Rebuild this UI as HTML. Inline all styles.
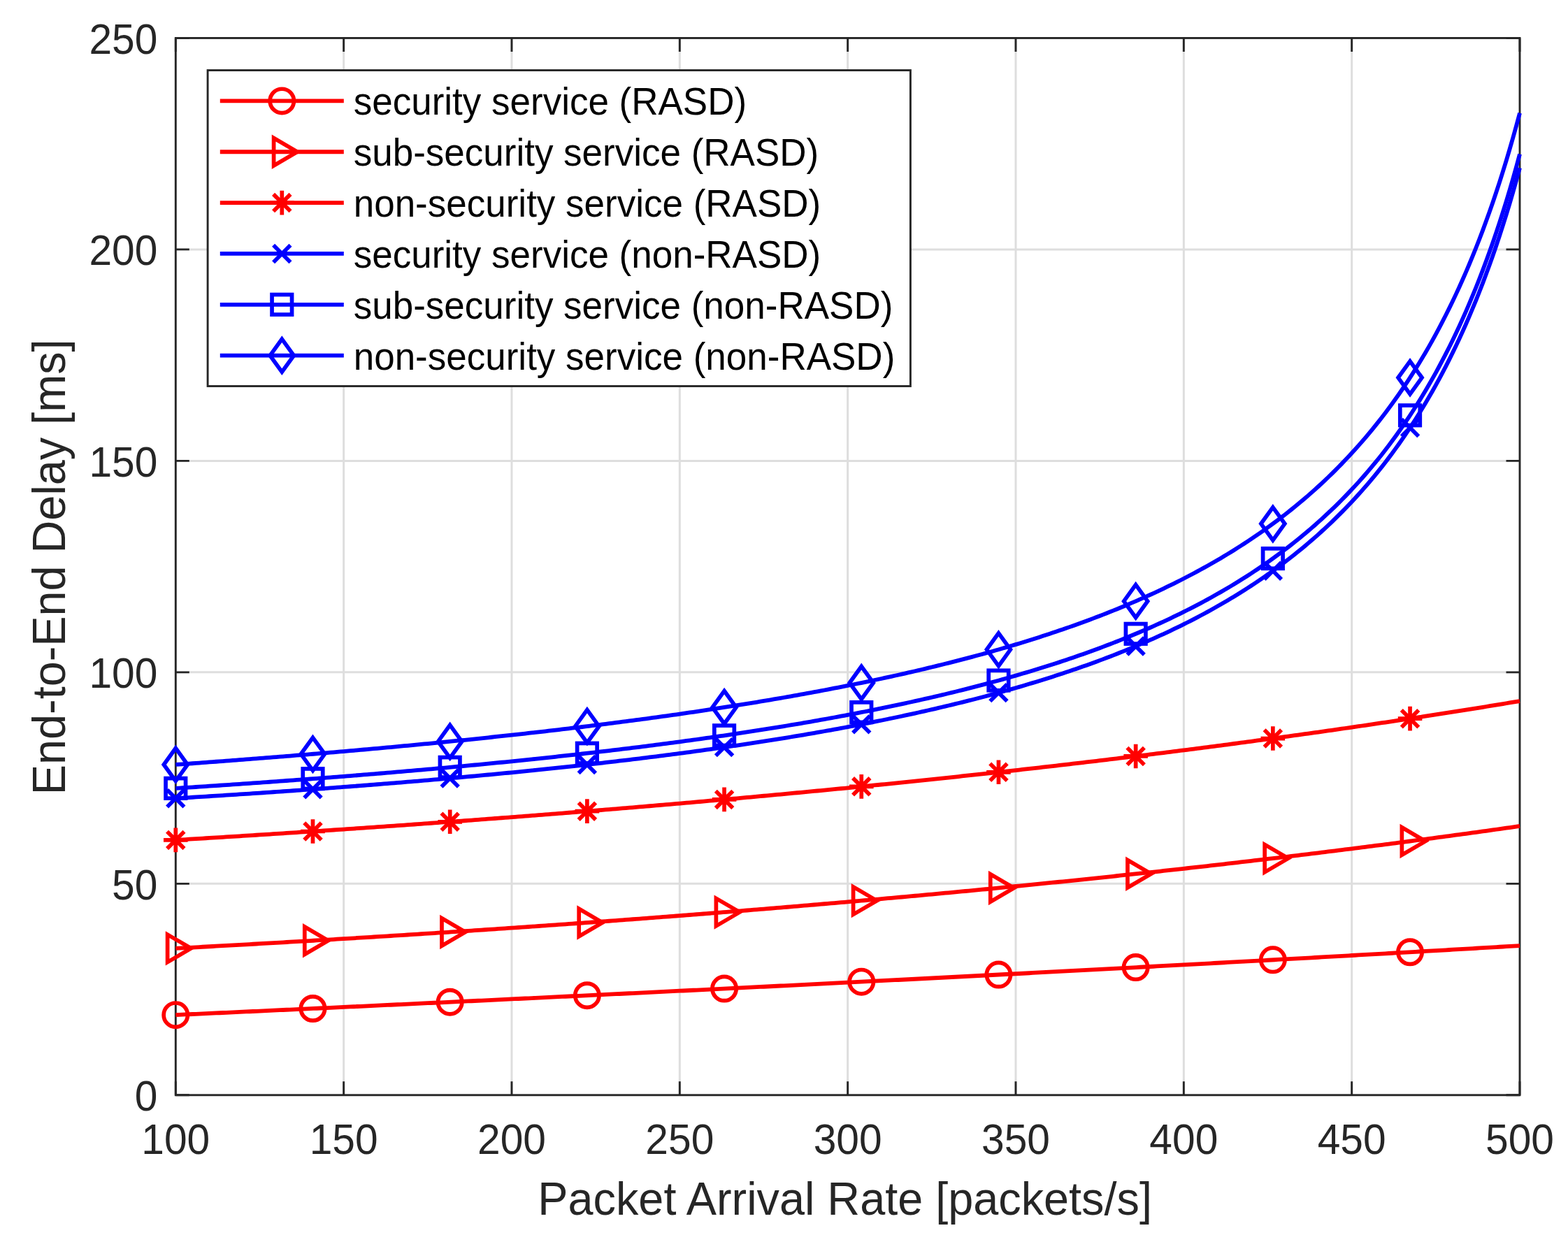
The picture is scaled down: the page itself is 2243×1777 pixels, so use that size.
<!DOCTYPE html>
<html><head><meta charset="utf-8"><title>End-to-End Delay vs Packet Arrival Rate</title><style>html,body{margin:0;padding:0;background:#fff;width:2243px;height:1777px;overflow:hidden}svg{display:block}</style></head><body>
<svg width="2243" height="1777" viewBox="0 0 2243 1777">
<rect width="2243" height="1777" fill="#ffffff"/>
<path d="M491.64 54.45V1566.8M731.98 54.45V1566.8M972.31 54.45V1566.8M1212.65 54.45V1566.8M1452.99 54.45V1566.8M1693.33 54.45V1566.8M1933.66 54.45V1566.8M251.3 1264.33H2174M251.3 961.86H2174M251.3 659.39H2174M251.3 356.92H2174" stroke="#dedede" stroke-width="3.0" fill="none"/>
<path d="M251.3 1566.8V1547.3M251.3 54.45V73.95M491.64 1566.8V1547.3M491.64 54.45V73.95M731.98 1566.8V1547.3M731.98 54.45V73.95M972.31 1566.8V1547.3M972.31 54.45V73.95M1212.65 1566.8V1547.3M1212.65 54.45V73.95M1452.99 1566.8V1547.3M1452.99 54.45V73.95M1693.33 1566.8V1547.3M1693.33 54.45V73.95M1933.66 1566.8V1547.3M1933.66 54.45V73.95M2174 1566.8V1547.3M2174 54.45V73.95M251.3 1566.8H270.8M2174 1566.8H2154.5M251.3 1264.33H270.8M2174 1264.33H2154.5M251.3 961.86H270.8M2174 961.86H2154.5M251.3 659.39H270.8M2174 659.39H2154.5M251.3 356.92H270.8M2174 356.92H2154.5M251.3 54.45H270.8M2174 54.45H2154.5" stroke="#262626" stroke-width="2.9" fill="none"/>
<rect x="251.3" y="54.45" width="1922.7" height="1512.35" stroke="#262626" stroke-width="2.9" fill="none"/>
<polyline points="251.3,1452.14 256.11,1451.91 260.91,1451.69 265.72,1451.47 270.53,1451.25 275.33,1451.02 280.14,1450.8 284.95,1450.58 289.75,1450.36 294.56,1450.13 299.37,1449.91 304.17,1449.69 308.98,1449.46 313.79,1449.24 318.59,1449.02 323.4,1448.79 328.21,1448.57 333.01,1448.35 337.82,1448.12 342.63,1447.9 347.44,1447.67 352.24,1447.45 357.05,1447.23 361.86,1447 366.66,1446.78 371.47,1446.55 376.28,1446.33 381.08,1446.1 385.89,1445.88 390.7,1445.66 395.5,1445.43 400.31,1445.21 405.12,1444.98 409.92,1444.76 414.73,1444.53 419.54,1444.3 424.34,1444.08 429.15,1443.85 433.96,1443.63 438.76,1443.4 443.57,1443.18 448.38,1442.95 453.18,1442.73 457.99,1442.5 462.8,1442.27 467.6,1442.05 472.41,1441.82 477.22,1441.59 482.02,1441.37 486.83,1441.14 491.64,1440.91 496.44,1440.69 501.25,1440.46 506.06,1440.23 510.86,1440.01 515.67,1439.78 520.48,1439.55 525.28,1439.32 530.09,1439.1 534.9,1438.87 539.7,1438.64 544.51,1438.41 549.32,1438.19 554.13,1437.96 558.93,1437.73 563.74,1437.5 568.55,1437.27 573.35,1437.05 578.16,1436.82 582.97,1436.59 587.77,1436.36 592.58,1436.13 597.39,1435.9 602.19,1435.67 607,1435.44 611.81,1435.22 616.61,1434.99 621.42,1434.76 626.23,1434.53 631.03,1434.3 635.84,1434.07 640.65,1433.84 645.45,1433.61 650.26,1433.38 655.07,1433.15 659.87,1432.92 664.68,1432.69 669.49,1432.46 674.29,1432.23 679.1,1432 683.91,1431.77 688.71,1431.53 693.52,1431.3 698.33,1431.07 703.13,1430.84 707.94,1430.61 712.75,1430.38 717.55,1430.15 722.36,1429.92 727.17,1429.68 731.98,1429.45 736.78,1429.22 741.59,1428.99 746.4,1428.76 751.2,1428.52 756.01,1428.29 760.82,1428.06 765.62,1427.83 770.43,1427.59 775.24,1427.36 780.04,1427.13 784.85,1426.9 789.66,1426.66 794.46,1426.43 799.27,1426.2 804.08,1425.96 808.88,1425.73 813.69,1425.49 818.5,1425.26 823.3,1425.03 828.11,1424.79 832.92,1424.56 837.72,1424.32 842.53,1424.09 847.34,1423.86 852.14,1423.62 856.95,1423.39 861.76,1423.15 866.56,1422.92 871.37,1422.68 876.18,1422.45 880.98,1422.21 885.79,1421.98 890.6,1421.74 895.4,1421.5 900.21,1421.27 905.02,1421.03 909.82,1420.8 914.63,1420.56 919.44,1420.32 924.25,1420.09 929.05,1419.85 933.86,1419.61 938.67,1419.38 943.47,1419.14 948.28,1418.9 953.09,1418.67 957.89,1418.43 962.7,1418.19 967.51,1417.95 972.31,1417.72 977.12,1417.48 981.93,1417.24 986.73,1417 991.54,1416.76 996.35,1416.53 1001.15,1416.29 1005.96,1416.05 1010.77,1415.81 1015.57,1415.57 1020.38,1415.33 1025.19,1415.09 1029.99,1414.85 1034.8,1414.61 1039.61,1414.37 1044.41,1414.13 1049.22,1413.9 1054.03,1413.66 1058.83,1413.42 1063.64,1413.18 1068.45,1412.93 1073.25,1412.69 1078.06,1412.45 1082.87,1412.21 1087.67,1411.97 1092.48,1411.73 1097.29,1411.49 1102.09,1411.25 1106.9,1411.01 1111.71,1410.77 1116.52,1410.52 1121.32,1410.28 1126.13,1410.04 1130.94,1409.8 1135.74,1409.56 1140.55,1409.31 1145.36,1409.07 1150.16,1408.83 1154.97,1408.59 1159.78,1408.34 1164.58,1408.1 1169.39,1407.86 1174.2,1407.61 1179,1407.37 1183.81,1407.13 1188.62,1406.88 1193.42,1406.64 1198.23,1406.39 1203.04,1406.15 1207.84,1405.91 1212.65,1405.66 1217.46,1405.42 1222.26,1405.17 1227.07,1404.93 1231.88,1404.68 1236.68,1404.44 1241.49,1404.19 1246.3,1403.95 1251.1,1403.7 1255.91,1403.45 1260.72,1403.21 1265.52,1402.96 1270.33,1402.72 1275.14,1402.47 1279.94,1402.22 1284.75,1401.98 1289.56,1401.73 1294.36,1401.48 1299.17,1401.24 1303.98,1400.99 1308.78,1400.74 1313.59,1400.49 1318.4,1400.24 1323.21,1400 1328.01,1399.75 1332.82,1399.5 1337.63,1399.25 1342.43,1399 1347.24,1398.75 1352.05,1398.51 1356.85,1398.26 1361.66,1398.01 1366.47,1397.76 1371.27,1397.51 1376.08,1397.26 1380.89,1397.01 1385.69,1396.76 1390.5,1396.51 1395.31,1396.26 1400.11,1396.01 1404.92,1395.76 1409.73,1395.51 1414.53,1395.25 1419.34,1395 1424.15,1394.75 1428.95,1394.5 1433.76,1394.25 1438.57,1394 1443.37,1393.74 1448.18,1393.49 1452.99,1393.24 1457.79,1392.99 1462.6,1392.73 1467.41,1392.48 1472.21,1392.23 1477.02,1391.97 1481.83,1391.72 1486.63,1391.47 1491.44,1391.21 1496.25,1390.96 1501.06,1390.71 1505.86,1390.45 1510.67,1390.2 1515.48,1389.94 1520.28,1389.69 1525.09,1389.43 1529.9,1389.18 1534.7,1388.92 1539.51,1388.67 1544.32,1388.41 1549.12,1388.15 1553.93,1387.9 1558.74,1387.64 1563.54,1387.38 1568.35,1387.13 1573.16,1386.87 1577.96,1386.61 1582.77,1386.36 1587.58,1386.1 1592.38,1385.84 1597.19,1385.58 1602,1385.33 1606.8,1385.07 1611.61,1384.81 1616.42,1384.55 1621.22,1384.29 1626.03,1384.03 1630.84,1383.77 1635.64,1383.51 1640.45,1383.25 1645.26,1382.99 1650.06,1382.73 1654.87,1382.47 1659.68,1382.21 1664.48,1381.95 1669.29,1381.69 1674.1,1381.43 1678.9,1381.17 1683.71,1380.91 1688.52,1380.65 1693.33,1380.39 1698.13,1380.12 1702.94,1379.86 1707.75,1379.6 1712.55,1379.34 1717.36,1379.07 1722.17,1378.81 1726.97,1378.55 1731.78,1378.28 1736.59,1378.02 1741.39,1377.76 1746.2,1377.49 1751.01,1377.23 1755.81,1376.96 1760.62,1376.7 1765.43,1376.43 1770.23,1376.17 1775.04,1375.9 1779.85,1375.64 1784.65,1375.37 1789.46,1375.11 1794.27,1374.84 1799.07,1374.57 1803.88,1374.31 1808.69,1374.04 1813.49,1373.77 1818.3,1373.51 1823.11,1373.24 1827.91,1372.97 1832.72,1372.7 1837.53,1372.43 1842.33,1372.17 1847.14,1371.9 1851.95,1371.63 1856.75,1371.36 1861.56,1371.09 1866.37,1370.82 1871.17,1370.55 1875.98,1370.28 1880.79,1370.01 1885.6,1369.74 1890.4,1369.47 1895.21,1369.2 1900.02,1368.93 1904.82,1368.65 1909.63,1368.38 1914.44,1368.11 1919.24,1367.84 1924.05,1367.57 1928.86,1367.29 1933.66,1367.02 1938.47,1366.75 1943.28,1366.47 1948.08,1366.2 1952.89,1365.93 1957.7,1365.65 1962.5,1365.38 1967.31,1365.1 1972.12,1364.83 1976.92,1364.55 1981.73,1364.28 1986.54,1364 1991.34,1363.73 1996.15,1363.45 2000.96,1363.17 2005.76,1362.9 2010.57,1362.62 2015.38,1362.34 2020.18,1362.07 2024.99,1361.79 2029.8,1361.51 2034.6,1361.23 2039.41,1360.95 2044.22,1360.68 2049.02,1360.4 2053.83,1360.12 2058.64,1359.84 2063.44,1359.56 2068.25,1359.28 2073.06,1359 2077.87,1358.72 2082.67,1358.44 2087.48,1358.15 2092.29,1357.87 2097.09,1357.59 2101.9,1357.31 2106.71,1357.03 2111.51,1356.75 2116.32,1356.46 2121.13,1356.18 2125.93,1355.9 2130.74,1355.61 2135.55,1355.33 2140.35,1355.04 2145.16,1354.76 2149.97,1354.48 2154.77,1354.19 2159.58,1353.9 2164.39,1353.62 2169.19,1353.33 2174,1353.05" stroke="#ff0000" stroke-width="5.8" fill="none" stroke-linejoin="round" stroke-linecap="butt"/>
<circle cx="251.3" cy="1452.14" r="17.15" stroke="#ff0000" stroke-width="5.7" fill="none"/>
<circle cx="447.49" cy="1442.99" r="17.15" stroke="#ff0000" stroke-width="5.7" fill="none"/>
<circle cx="643.69" cy="1433.69" r="17.15" stroke="#ff0000" stroke-width="5.7" fill="none"/>
<circle cx="839.88" cy="1424.22" r="17.15" stroke="#ff0000" stroke-width="5.7" fill="none"/>
<circle cx="1036.08" cy="1414.55" r="17.15" stroke="#ff0000" stroke-width="5.7" fill="none"/>
<circle cx="1232.27" cy="1404.66" r="17.15" stroke="#ff0000" stroke-width="5.7" fill="none"/>
<circle cx="1428.46" cy="1394.53" r="17.15" stroke="#ff0000" stroke-width="5.7" fill="none"/>
<circle cx="1624.66" cy="1384.11" r="17.15" stroke="#ff0000" stroke-width="5.7" fill="none"/>
<circle cx="1820.85" cy="1373.36" r="17.15" stroke="#ff0000" stroke-width="5.7" fill="none"/>
<circle cx="2017.04" cy="1362.25" r="17.15" stroke="#ff0000" stroke-width="5.7" fill="none"/>
<polyline points="251.3,1356.85 256.11,1356.59 260.91,1356.33 265.72,1356.08 270.53,1355.82 275.33,1355.56 280.14,1355.3 284.95,1355.03 289.75,1354.77 294.56,1354.51 299.37,1354.25 304.17,1353.98 308.98,1353.72 313.79,1353.45 318.59,1353.19 323.4,1352.92 328.21,1352.65 333.01,1352.38 337.82,1352.11 342.63,1351.85 347.44,1351.58 352.24,1351.3 357.05,1351.03 361.86,1350.76 366.66,1350.49 371.47,1350.22 376.28,1349.94 381.08,1349.67 385.89,1349.39 390.7,1349.11 395.5,1348.84 400.31,1348.56 405.12,1348.28 409.92,1348 414.73,1347.72 419.54,1347.44 424.34,1347.16 429.15,1346.88 433.96,1346.6 438.76,1346.31 443.57,1346.03 448.38,1345.75 453.18,1345.46 457.99,1345.17 462.8,1344.89 467.6,1344.6 472.41,1344.31 477.22,1344.02 482.02,1343.73 486.83,1343.44 491.64,1343.15 496.44,1342.86 501.25,1342.57 506.06,1342.28 510.86,1341.98 515.67,1341.69 520.48,1341.39 525.28,1341.1 530.09,1340.8 534.9,1340.5 539.7,1340.2 544.51,1339.9 549.32,1339.6 554.13,1339.3 558.93,1339 563.74,1338.7 568.55,1338.4 573.35,1338.09 578.16,1337.79 582.97,1337.49 587.77,1337.18 592.58,1336.87 597.39,1336.57 602.19,1336.26 607,1335.95 611.81,1335.64 616.61,1335.33 621.42,1335.02 626.23,1334.71 631.03,1334.39 635.84,1334.08 640.65,1333.77 645.45,1333.45 650.26,1333.14 655.07,1332.82 659.87,1332.5 664.68,1332.19 669.49,1331.87 674.29,1331.55 679.1,1331.23 683.91,1330.91 688.71,1330.58 693.52,1330.26 698.33,1329.94 703.13,1329.61 707.94,1329.29 712.75,1328.96 717.55,1328.64 722.36,1328.31 727.17,1327.98 731.98,1327.65 736.78,1327.32 741.59,1326.99 746.4,1326.66 751.2,1326.33 756.01,1325.99 760.82,1325.66 765.62,1325.32 770.43,1324.99 775.24,1324.65 780.04,1324.32 784.85,1323.98 789.66,1323.64 794.46,1323.3 799.27,1322.96 804.08,1322.62 808.88,1322.28 813.69,1321.93 818.5,1321.59 823.3,1321.24 828.11,1320.9 832.92,1320.55 837.72,1320.2 842.53,1319.86 847.34,1319.51 852.14,1319.16 856.95,1318.81 861.76,1318.46 866.56,1318.1 871.37,1317.75 876.18,1317.4 880.98,1317.04 885.79,1316.69 890.6,1316.33 895.4,1315.97 900.21,1315.61 905.02,1315.25 909.82,1314.89 914.63,1314.53 919.44,1314.17 924.25,1313.81 929.05,1313.44 933.86,1313.08 938.67,1312.71 943.47,1312.35 948.28,1311.98 953.09,1311.61 957.89,1311.24 962.7,1310.87 967.51,1310.5 972.31,1310.13 977.12,1309.76 981.93,1309.39 986.73,1309.01 991.54,1308.64 996.35,1308.26 1001.15,1307.88 1005.96,1307.5 1010.77,1307.13 1015.57,1306.75 1020.38,1306.36 1025.19,1305.98 1029.99,1305.6 1034.8,1305.22 1039.61,1304.83 1044.41,1304.45 1049.22,1304.06 1054.03,1303.67 1058.83,1303.28 1063.64,1302.9 1068.45,1302.51 1073.25,1302.11 1078.06,1301.72 1082.87,1301.33 1087.67,1300.94 1092.48,1300.54 1097.29,1300.14 1102.09,1299.75 1106.9,1299.35 1111.71,1298.95 1116.52,1298.55 1121.32,1298.15 1126.13,1297.75 1130.94,1297.35 1135.74,1296.94 1140.55,1296.54 1145.36,1296.13 1150.16,1295.73 1154.97,1295.32 1159.78,1294.91 1164.58,1294.5 1169.39,1294.09 1174.2,1293.68 1179,1293.26 1183.81,1292.85 1188.62,1292.44 1193.42,1292.02 1198.23,1291.6 1203.04,1291.19 1207.84,1290.77 1212.65,1290.35 1217.46,1289.93 1222.26,1289.51 1227.07,1289.08 1231.88,1288.66 1236.68,1288.24 1241.49,1287.81 1246.3,1287.38 1251.1,1286.96 1255.91,1286.53 1260.72,1286.1 1265.52,1285.67 1270.33,1285.23 1275.14,1284.8 1279.94,1284.37 1284.75,1283.93 1289.56,1283.49 1294.36,1283.06 1299.17,1282.62 1303.98,1282.18 1308.78,1281.74 1313.59,1281.3 1318.4,1280.86 1323.21,1280.41 1328.01,1279.97 1332.82,1279.52 1337.63,1279.07 1342.43,1278.63 1347.24,1278.18 1352.05,1277.73 1356.85,1277.28 1361.66,1276.82 1366.47,1276.37 1371.27,1275.91 1376.08,1275.46 1380.89,1275 1385.69,1274.54 1390.5,1274.09 1395.31,1273.62 1400.11,1273.16 1404.92,1272.7 1409.73,1272.24 1414.53,1271.77 1419.34,1271.31 1424.15,1270.84 1428.95,1270.37 1433.76,1269.9 1438.57,1269.43 1443.37,1268.96 1448.18,1268.49 1452.99,1268.01 1457.79,1267.54 1462.6,1267.06 1467.41,1266.59 1472.21,1266.11 1477.02,1265.63 1481.83,1265.15 1486.63,1264.67 1491.44,1264.18 1496.25,1263.7 1501.06,1263.21 1505.86,1262.73 1510.67,1262.24 1515.48,1261.75 1520.28,1261.26 1525.09,1260.77 1529.9,1260.28 1534.7,1259.78 1539.51,1259.29 1544.32,1258.79 1549.12,1258.29 1553.93,1257.79 1558.74,1257.29 1563.54,1256.79 1568.35,1256.29 1573.16,1255.79 1577.96,1255.28 1582.77,1254.78 1587.58,1254.27 1592.38,1253.76 1597.19,1253.25 1602,1252.74 1606.8,1252.23 1611.61,1251.71 1616.42,1251.2 1621.22,1250.68 1626.03,1250.17 1630.84,1249.65 1635.64,1249.13 1640.45,1248.61 1645.26,1248.09 1650.06,1247.56 1654.87,1247.04 1659.68,1246.51 1664.48,1245.98 1669.29,1245.45 1674.1,1244.92 1678.9,1244.39 1683.71,1243.86 1688.52,1243.33 1693.33,1242.79 1698.13,1242.25 1702.94,1241.72 1707.75,1241.18 1712.55,1240.64 1717.36,1240.09 1722.17,1239.55 1726.97,1239.01 1731.78,1238.46 1736.59,1237.91 1741.39,1237.37 1746.2,1236.82 1751.01,1236.26 1755.81,1235.71 1760.62,1235.16 1765.43,1234.6 1770.23,1234.05 1775.04,1233.49 1779.85,1232.93 1784.65,1232.37 1789.46,1231.8 1794.27,1231.24 1799.07,1230.68 1803.88,1230.11 1808.69,1229.54 1813.49,1228.97 1818.3,1228.4 1823.11,1227.83 1827.91,1227.26 1832.72,1226.68 1837.53,1226.1 1842.33,1225.53 1847.14,1224.95 1851.95,1224.37 1856.75,1223.79 1861.56,1223.2 1866.37,1222.62 1871.17,1222.03 1875.98,1221.44 1880.79,1220.85 1885.6,1220.26 1890.4,1219.67 1895.21,1219.08 1900.02,1218.48 1904.82,1217.89 1909.63,1217.29 1914.44,1216.69 1919.24,1216.09 1924.05,1215.48 1928.86,1214.88 1933.66,1214.27 1938.47,1213.67 1943.28,1213.06 1948.08,1212.45 1952.89,1211.84 1957.7,1211.22 1962.5,1210.61 1967.31,1209.99 1972.12,1209.38 1976.92,1208.76 1981.73,1208.14 1986.54,1207.51 1991.34,1206.89 1996.15,1206.26 2000.96,1205.64 2005.76,1205.01 2010.57,1204.38 2015.38,1203.75 2020.18,1203.11 2024.99,1202.48 2029.8,1201.84 2034.6,1201.2 2039.41,1200.56 2044.22,1199.92 2049.02,1199.28 2053.83,1198.64 2058.64,1197.99 2063.44,1197.34 2068.25,1196.69 2073.06,1196.04 2077.87,1195.39 2082.67,1194.73 2087.48,1194.08 2092.29,1193.42 2097.09,1192.76 2101.9,1192.1 2106.71,1191.44 2111.51,1190.77 2116.32,1190.11 2121.13,1189.44 2125.93,1188.77 2130.74,1188.1 2135.55,1187.43 2140.35,1186.75 2145.16,1186.08 2149.97,1185.4 2154.77,1184.72 2159.58,1184.04 2164.39,1183.36 2169.19,1182.67 2174,1181.99" stroke="#ff0000" stroke-width="5.8" fill="none" stroke-linejoin="round" stroke-linecap="butt"/>
<polygon points="239.6,1337.1 273.3,1356.85 239.6,1376.6" stroke="#ff0000" stroke-width="5.7" fill="none" stroke-linejoin="miter"/>
<polygon points="435.79,1326.05 469.49,1345.8 435.79,1365.55" stroke="#ff0000" stroke-width="5.7" fill="none" stroke-linejoin="miter"/>
<polygon points="631.99,1313.82 665.69,1333.57 631.99,1353.32" stroke="#ff0000" stroke-width="5.7" fill="none" stroke-linejoin="miter"/>
<polygon points="828.18,1300.3 861.88,1320.05 828.18,1339.8" stroke="#ff0000" stroke-width="5.7" fill="none" stroke-linejoin="miter"/>
<polygon points="1024.38,1285.36 1058.08,1305.11 1024.38,1324.86" stroke="#ff0000" stroke-width="5.7" fill="none" stroke-linejoin="miter"/>
<polygon points="1220.57,1268.88 1254.27,1288.63 1220.57,1308.38" stroke="#ff0000" stroke-width="5.7" fill="none" stroke-linejoin="miter"/>
<polygon points="1416.76,1250.67 1450.46,1270.42 1416.76,1290.17" stroke="#ff0000" stroke-width="5.7" fill="none" stroke-linejoin="miter"/>
<polygon points="1612.96,1230.56 1646.66,1250.31 1612.96,1270.06" stroke="#ff0000" stroke-width="5.7" fill="none" stroke-linejoin="miter"/>
<polygon points="1809.15,1208.35 1842.85,1228.1 1809.15,1247.85" stroke="#ff0000" stroke-width="5.7" fill="none" stroke-linejoin="miter"/>
<polygon points="2005.34,1183.78 2039.04,1203.53 2005.34,1223.28" stroke="#ff0000" stroke-width="5.7" fill="none" stroke-linejoin="miter"/>
<polyline points="251.3,1201.89 256.11,1201.6 260.91,1201.31 265.72,1201.02 270.53,1200.73 275.33,1200.44 280.14,1200.15 284.95,1199.85 289.75,1199.56 294.56,1199.26 299.37,1198.97 304.17,1198.67 308.98,1198.37 313.79,1198.08 318.59,1197.78 323.4,1197.48 328.21,1197.18 333.01,1196.88 337.82,1196.58 342.63,1196.27 347.44,1195.97 352.24,1195.67 357.05,1195.36 361.86,1195.06 366.66,1194.75 371.47,1194.44 376.28,1194.14 381.08,1193.83 385.89,1193.52 390.7,1193.21 395.5,1192.9 400.31,1192.59 405.12,1192.28 409.92,1191.96 414.73,1191.65 419.54,1191.33 424.34,1191.02 429.15,1190.7 433.96,1190.39 438.76,1190.07 443.57,1189.75 448.38,1189.43 453.18,1189.11 457.99,1188.79 462.8,1188.47 467.6,1188.15 472.41,1187.83 477.22,1187.5 482.02,1187.18 486.83,1186.85 491.64,1186.53 496.44,1186.2 501.25,1185.87 506.06,1185.54 510.86,1185.21 515.67,1184.88 520.48,1184.55 525.28,1184.22 530.09,1183.89 534.9,1183.55 539.7,1183.22 544.51,1182.89 549.32,1182.55 554.13,1182.21 558.93,1181.88 563.74,1181.54 568.55,1181.2 573.35,1180.86 578.16,1180.52 582.97,1180.18 587.77,1179.83 592.58,1179.49 597.39,1179.15 602.19,1178.8 607,1178.46 611.81,1178.11 616.61,1177.76 621.42,1177.41 626.23,1177.06 631.03,1176.71 635.84,1176.36 640.65,1176.01 645.45,1175.66 650.26,1175.31 655.07,1174.95 659.87,1174.6 664.68,1174.24 669.49,1173.88 674.29,1173.53 679.1,1173.17 683.91,1172.81 688.71,1172.45 693.52,1172.08 698.33,1171.72 703.13,1171.36 707.94,1171 712.75,1170.63 717.55,1170.26 722.36,1169.9 727.17,1169.53 731.98,1169.16 736.78,1168.79 741.59,1168.42 746.4,1168.05 751.2,1167.68 756.01,1167.31 760.82,1166.93 765.62,1166.56 770.43,1166.18 775.24,1165.8 780.04,1165.43 784.85,1165.05 789.66,1164.67 794.46,1164.29 799.27,1163.91 804.08,1163.52 808.88,1163.14 813.69,1162.76 818.5,1162.37 823.3,1161.99 828.11,1161.6 832.92,1161.21 837.72,1160.82 842.53,1160.43 847.34,1160.04 852.14,1159.65 856.95,1159.26 861.76,1158.86 866.56,1158.47 871.37,1158.07 876.18,1157.67 880.98,1157.28 885.79,1156.88 890.6,1156.48 895.4,1156.08 900.21,1155.68 905.02,1155.27 909.82,1154.87 914.63,1154.46 919.44,1154.06 924.25,1153.65 929.05,1153.24 933.86,1152.83 938.67,1152.43 943.47,1152.01 948.28,1151.6 953.09,1151.19 957.89,1150.78 962.7,1150.36 967.51,1149.95 972.31,1149.53 977.12,1149.11 981.93,1148.69 986.73,1148.27 991.54,1147.85 996.35,1147.43 1001.15,1147 1005.96,1146.58 1010.77,1146.15 1015.57,1145.73 1020.38,1145.3 1025.19,1144.87 1029.99,1144.44 1034.8,1144.01 1039.61,1143.58 1044.41,1143.15 1049.22,1142.71 1054.03,1142.28 1058.83,1141.84 1063.64,1141.41 1068.45,1140.97 1073.25,1140.53 1078.06,1140.09 1082.87,1139.65 1087.67,1139.2 1092.48,1138.76 1097.29,1138.31 1102.09,1137.87 1106.9,1137.42 1111.71,1136.97 1116.52,1136.52 1121.32,1136.07 1126.13,1135.62 1130.94,1135.17 1135.74,1134.72 1140.55,1134.26 1145.36,1133.8 1150.16,1133.35 1154.97,1132.89 1159.78,1132.43 1164.58,1131.97 1169.39,1131.51 1174.2,1131.04 1179,1130.58 1183.81,1130.11 1188.62,1129.65 1193.42,1129.18 1198.23,1128.71 1203.04,1128.24 1207.84,1127.77 1212.65,1127.3 1217.46,1126.82 1222.26,1126.35 1227.07,1125.87 1231.88,1125.39 1236.68,1124.91 1241.49,1124.43 1246.3,1123.95 1251.1,1123.47 1255.91,1122.99 1260.72,1122.5 1265.52,1122.02 1270.33,1121.53 1275.14,1121.04 1279.94,1120.55 1284.75,1120.06 1289.56,1119.57 1294.36,1119.08 1299.17,1118.58 1303.98,1118.09 1308.78,1117.59 1313.59,1117.09 1318.4,1116.59 1323.21,1116.09 1328.01,1115.59 1332.82,1115.08 1337.63,1114.58 1342.43,1114.07 1347.24,1113.57 1352.05,1113.06 1356.85,1112.55 1361.66,1112.04 1366.47,1111.52 1371.27,1111.01 1376.08,1110.49 1380.89,1109.98 1385.69,1109.46 1390.5,1108.94 1395.31,1108.42 1400.11,1107.9 1404.92,1107.37 1409.73,1106.85 1414.53,1106.32 1419.34,1105.8 1424.15,1105.27 1428.95,1104.74 1433.76,1104.21 1438.57,1103.67 1443.37,1103.14 1448.18,1102.61 1452.99,1102.07 1457.79,1101.53 1462.6,1100.99 1467.41,1100.45 1472.21,1099.91 1477.02,1099.36 1481.83,1098.82 1486.63,1098.27 1491.44,1097.72 1496.25,1097.17 1501.06,1096.62 1505.86,1096.07 1510.67,1095.52 1515.48,1094.96 1520.28,1094.41 1525.09,1093.85 1529.9,1093.29 1534.7,1092.73 1539.51,1092.16 1544.32,1091.6 1549.12,1091.04 1553.93,1090.47 1558.74,1089.9 1563.54,1089.33 1568.35,1088.76 1573.16,1088.19 1577.96,1087.61 1582.77,1087.04 1587.58,1086.46 1592.38,1085.88 1597.19,1085.3 1602,1084.72 1606.8,1084.13 1611.61,1083.55 1616.42,1082.96 1621.22,1082.38 1626.03,1081.79 1630.84,1081.2 1635.64,1080.6 1640.45,1080.01 1645.26,1079.41 1650.06,1078.82 1654.87,1078.22 1659.68,1077.62 1664.48,1077.01 1669.29,1076.41 1674.1,1075.81 1678.9,1075.2 1683.71,1074.59 1688.52,1073.98 1693.33,1073.37 1698.13,1072.76 1702.94,1072.14 1707.75,1071.52 1712.55,1070.91 1717.36,1070.29 1722.17,1069.66 1726.97,1069.04 1731.78,1068.42 1736.59,1067.79 1741.39,1067.16 1746.2,1066.53 1751.01,1065.9 1755.81,1065.27 1760.62,1064.63 1765.43,1064 1770.23,1063.36 1775.04,1062.72 1779.85,1062.08 1784.65,1061.43 1789.46,1060.79 1794.27,1060.14 1799.07,1059.49 1803.88,1058.84 1808.69,1058.19 1813.49,1057.54 1818.3,1056.88 1823.11,1056.22 1827.91,1055.57 1832.72,1054.9 1837.53,1054.24 1842.33,1053.58 1847.14,1052.91 1851.95,1052.24 1856.75,1051.57 1861.56,1050.9 1866.37,1050.23 1871.17,1049.55 1875.98,1048.88 1880.79,1048.2 1885.6,1047.52 1890.4,1046.83 1895.21,1046.15 1900.02,1045.46 1904.82,1044.78 1909.63,1044.09 1914.44,1043.39 1919.24,1042.7 1924.05,1042 1928.86,1041.31 1933.66,1040.61 1938.47,1039.91 1943.28,1039.2 1948.08,1038.5 1952.89,1037.79 1957.7,1037.08 1962.5,1036.37 1967.31,1035.66 1972.12,1034.94 1976.92,1034.23 1981.73,1033.51 1986.54,1032.79 1991.34,1032.06 1996.15,1031.34 2000.96,1030.61 2005.76,1029.88 2010.57,1029.15 2015.38,1028.42 2020.18,1027.68 2024.99,1026.95 2029.8,1026.21 2034.6,1025.47 2039.41,1024.72 2044.22,1023.98 2049.02,1023.23 2053.83,1022.48 2058.64,1021.73 2063.44,1020.98 2068.25,1020.22 2073.06,1019.47 2077.87,1018.71 2082.67,1017.94 2087.48,1017.18 2092.29,1016.41 2097.09,1015.65 2101.9,1014.87 2106.71,1014.1 2111.51,1013.33 2116.32,1012.55 2121.13,1011.77 2125.93,1010.99 2130.74,1010.21 2135.55,1009.42 2140.35,1008.63 2145.16,1007.84 2149.97,1007.05 2154.77,1006.26 2159.58,1005.46 2164.39,1004.66 2169.19,1003.86 2174,1003.06" stroke="#ff0000" stroke-width="5.8" fill="none" stroke-linejoin="round" stroke-linecap="butt"/>
<path d="M234 1201.89H268.6M251.3 1184.59V1219.19M239.07 1189.66L263.53 1214.13M239.07 1214.13L263.53 1189.66" stroke="#ff0000" stroke-width="5.7" fill="none" stroke-linecap="butt"/>
<path d="M430.19 1189.49H464.79M447.49 1172.19V1206.79M435.26 1177.26L459.73 1201.72M435.26 1201.72L459.73 1177.26" stroke="#ff0000" stroke-width="5.7" fill="none" stroke-linecap="butt"/>
<path d="M626.39 1175.79H660.99M643.69 1158.49V1193.09M631.45 1163.56L655.92 1188.02M631.45 1188.02L655.92 1163.56" stroke="#ff0000" stroke-width="5.7" fill="none" stroke-linecap="butt"/>
<path d="M822.58 1160.65H857.18M839.88 1143.35V1177.95M827.65 1148.41L852.11 1172.88M827.65 1172.88L852.11 1148.41" stroke="#ff0000" stroke-width="5.7" fill="none" stroke-linecap="butt"/>
<path d="M1018.78 1143.9H1053.38M1036.08 1126.6V1161.2M1023.84 1131.66L1048.31 1156.13M1023.84 1156.13L1048.31 1131.66" stroke="#ff0000" stroke-width="5.7" fill="none" stroke-linecap="butt"/>
<path d="M1214.97 1125.35H1249.57M1232.27 1108.05V1142.65M1220.04 1113.12L1244.5 1137.59M1220.04 1137.59L1244.5 1113.12" stroke="#ff0000" stroke-width="5.7" fill="none" stroke-linecap="butt"/>
<path d="M1411.16 1104.79H1445.76M1428.46 1087.49V1122.09M1416.23 1092.56L1440.7 1117.03M1416.23 1117.03L1440.7 1092.56" stroke="#ff0000" stroke-width="5.7" fill="none" stroke-linecap="butt"/>
<path d="M1607.36 1081.95H1641.96M1624.66 1064.65V1099.25M1612.42 1069.72L1636.89 1094.19M1612.42 1094.19L1636.89 1069.72" stroke="#ff0000" stroke-width="5.7" fill="none" stroke-linecap="butt"/>
<path d="M1803.55 1056.53H1838.15M1820.85 1039.23V1073.83M1808.62 1044.3L1833.08 1068.77M1808.62 1068.77L1833.08 1044.3" stroke="#ff0000" stroke-width="5.7" fill="none" stroke-linecap="butt"/>
<path d="M1999.74 1028.16H2034.34M2017.04 1010.86V1045.46M2004.81 1015.93L2029.28 1040.4M2004.81 1040.4L2029.28 1015.93" stroke="#ff0000" stroke-width="5.7" fill="none" stroke-linecap="butt"/>
<polyline points="251.3,1142.23 256.11,1141.94 260.91,1141.65 265.72,1141.35 270.53,1141.06 275.33,1140.76 280.14,1140.46 284.95,1140.17 289.75,1139.87 294.56,1139.57 299.37,1139.26 304.17,1138.96 308.98,1138.65 313.79,1138.35 318.59,1138.04 323.4,1137.73 328.21,1137.42 333.01,1137.11 337.82,1136.8 342.63,1136.48 347.44,1136.16 352.24,1135.85 357.05,1135.53 361.86,1135.21 366.66,1134.89 371.47,1134.56 376.28,1134.24 381.08,1133.91 385.89,1133.58 390.7,1133.26 395.5,1132.92 400.31,1132.59 405.12,1132.26 409.92,1131.92 414.73,1131.59 419.54,1131.25 424.34,1130.91 429.15,1130.57 433.96,1130.22 438.76,1129.88 443.57,1129.53 448.38,1129.18 453.18,1128.84 457.99,1128.48 462.8,1128.13 467.6,1127.78 472.41,1127.42 477.22,1127.06 482.02,1126.7 486.83,1126.34 491.64,1125.98 496.44,1125.61 501.25,1125.25 506.06,1124.88 510.86,1124.51 515.67,1124.13 520.48,1123.76 525.28,1123.38 530.09,1123.01 534.9,1122.63 539.7,1122.25 544.51,1121.86 549.32,1121.48 554.13,1121.09 558.93,1120.7 563.74,1120.31 568.55,1119.92 573.35,1119.52 578.16,1119.13 582.97,1118.73 587.77,1118.33 592.58,1117.92 597.39,1117.52 602.19,1117.11 607,1116.7 611.81,1116.29 616.61,1115.88 621.42,1115.46 626.23,1115.04 631.03,1114.62 635.84,1114.2 640.65,1113.78 645.45,1113.35 650.26,1112.92 655.07,1112.49 659.87,1112.06 664.68,1111.62 669.49,1111.18 674.29,1110.74 679.1,1110.3 683.91,1109.86 688.71,1109.41 693.52,1108.96 698.33,1108.51 703.13,1108.05 707.94,1107.59 712.75,1107.13 717.55,1106.67 722.36,1106.21 727.17,1105.74 731.98,1105.27 736.78,1104.8 741.59,1104.32 746.4,1103.84 751.2,1103.36 756.01,1102.88 760.82,1102.4 765.62,1101.91 770.43,1101.42 775.24,1100.92 780.04,1100.42 784.85,1099.92 789.66,1099.42 794.46,1098.92 799.27,1098.41 804.08,1097.9 808.88,1097.38 813.69,1096.87 818.5,1096.34 823.3,1095.82 828.11,1095.3 832.92,1094.77 837.72,1094.23 842.53,1093.7 847.34,1093.16 852.14,1092.62 856.95,1092.07 861.76,1091.52 866.56,1090.97 871.37,1090.42 876.18,1089.86 880.98,1089.3 885.79,1088.73 890.6,1088.16 895.4,1087.59 900.21,1087.01 905.02,1086.43 909.82,1085.85 914.63,1085.26 919.44,1084.67 924.25,1084.08 929.05,1083.48 933.86,1082.88 938.67,1082.28 943.47,1081.67 948.28,1081.06 953.09,1080.44 957.89,1079.82 962.7,1079.19 967.51,1078.57 972.31,1077.93 977.12,1077.3 981.93,1076.66 986.73,1076.01 991.54,1075.36 996.35,1074.71 1001.15,1074.05 1005.96,1073.39 1010.77,1072.72 1015.57,1072.05 1020.38,1071.38 1025.19,1070.7 1029.99,1070.01 1034.8,1069.32 1039.61,1068.63 1044.41,1067.93 1049.22,1067.23 1054.03,1066.52 1058.83,1065.81 1063.64,1065.09 1068.45,1064.37 1073.25,1063.64 1078.06,1062.91 1082.87,1062.17 1087.67,1061.43 1092.48,1060.68 1097.29,1059.93 1102.09,1059.17 1106.9,1058.4 1111.71,1057.64 1116.52,1056.86 1121.32,1056.08 1126.13,1055.29 1130.94,1054.5 1135.74,1053.7 1140.55,1052.9 1145.36,1052.09 1150.16,1051.28 1154.97,1050.46 1159.78,1049.63 1164.58,1048.8 1169.39,1047.96 1174.2,1047.11 1179,1046.26 1183.81,1045.4 1188.62,1044.54 1193.42,1043.66 1198.23,1042.79 1203.04,1041.9 1207.84,1041.01 1212.65,1040.11 1217.46,1039.21 1222.26,1038.29 1227.07,1037.37 1231.88,1036.45 1236.68,1035.51 1241.49,1034.57 1246.3,1033.62 1251.1,1032.67 1255.91,1031.7 1260.72,1030.73 1265.52,1029.75 1270.33,1028.76 1275.14,1027.77 1279.94,1026.76 1284.75,1025.75 1289.56,1024.73 1294.36,1023.7 1299.17,1022.67 1303.98,1021.62 1308.78,1020.57 1313.59,1019.5 1318.4,1018.43 1323.21,1017.35 1328.01,1016.26 1332.82,1015.16 1337.63,1014.05 1342.43,1012.93 1347.24,1011.8 1352.05,1010.66 1356.85,1009.51 1361.66,1008.36 1366.47,1007.19 1371.27,1006.01 1376.08,1004.82 1380.89,1003.62 1385.69,1002.41 1390.5,1001.19 1395.31,999.95 1400.11,998.71 1404.92,997.45 1409.73,996.19 1414.53,994.91 1419.34,993.62 1424.15,992.31 1428.95,991 1433.76,989.67 1438.57,988.33 1443.37,986.98 1448.18,985.62 1452.99,984.24 1457.79,982.85 1462.6,981.44 1467.41,980.02 1472.21,978.59 1477.02,977.14 1481.83,975.68 1486.63,974.21 1491.44,972.72 1496.25,971.21 1501.06,969.69 1505.86,968.16 1510.67,966.61 1515.48,965.04 1520.28,963.46 1525.09,961.86 1529.9,960.24 1534.7,958.61 1539.51,956.96 1544.32,955.29 1549.12,953.6 1553.93,951.9 1558.74,950.18 1563.54,948.44 1568.35,946.68 1573.16,944.9 1577.96,943.11 1582.77,941.29 1587.58,939.45 1592.38,937.59 1597.19,935.71 1602,933.81 1606.8,931.89 1611.61,929.95 1616.42,927.98 1621.22,926 1626.03,923.99 1630.84,921.95 1635.64,919.89 1640.45,917.81 1645.26,915.7 1650.06,913.57 1654.87,911.41 1659.68,909.22 1664.48,907.01 1669.29,904.77 1674.1,902.51 1678.9,900.21 1683.71,897.89 1688.52,895.54 1693.33,893.16 1698.13,890.75 1702.94,888.3 1707.75,885.83 1712.55,883.32 1717.36,880.78 1722.17,878.21 1726.97,875.61 1731.78,872.96 1736.59,870.29 1741.39,867.58 1746.2,864.83 1751.01,862.04 1755.81,859.21 1760.62,856.35 1765.43,853.44 1770.23,850.5 1775.04,847.51 1779.85,844.48 1784.65,841.41 1789.46,838.29 1794.27,835.13 1799.07,831.92 1803.88,828.66 1808.69,825.35 1813.49,822 1818.3,818.59 1823.11,815.13 1827.91,811.62 1832.72,808.05 1837.53,804.43 1842.33,800.75 1847.14,797.02 1851.95,793.22 1856.75,789.36 1861.56,785.44 1866.37,781.45 1871.17,777.4 1875.98,773.28 1880.79,769.1 1885.6,764.84 1890.4,760.51 1895.21,756.1 1900.02,751.62 1904.82,747.06 1909.63,742.41 1914.44,737.69 1919.24,732.88 1924.05,727.98 1928.86,722.99 1933.66,717.91 1938.47,712.74 1943.28,707.47 1948.08,702.09 1952.89,696.62 1957.7,691.04 1962.5,685.34 1967.31,679.54 1972.12,673.62 1976.92,667.58 1981.73,661.41 1986.54,655.12 1991.34,648.7 1996.15,642.14 2000.96,635.44 2005.76,628.6 2010.57,621.61 2015.38,614.47 2020.18,607.17 2024.99,599.7 2029.8,592.06 2034.6,584.25 2039.41,576.26 2044.22,568.07 2049.02,559.7 2053.83,551.12 2058.64,542.33 2063.44,533.32 2068.25,524.09 2073.06,514.62 2077.87,504.91 2082.67,494.95 2087.48,484.73 2092.29,474.23 2097.09,463.45 2101.9,452.37 2106.71,440.99 2111.51,429.28 2116.32,417.24 2121.13,404.85 2125.93,392.1 2130.74,378.96 2135.55,365.42 2140.35,351.47 2145.16,337.08 2149.97,322.23 2154.77,306.91 2159.58,291.08 2164.39,274.72 2169.19,257.8 2174,240.3" stroke="#0000ff" stroke-width="5.8" fill="none" stroke-linejoin="round" stroke-linecap="butt"/>
<path d="M239.1 1130.03L263.5 1154.43M239.1 1154.43L263.5 1130.03" stroke="#0000ff" stroke-width="5.7" fill="none" stroke-linecap="butt"/>
<path d="M435.29 1117.05L459.69 1141.45M435.29 1141.45L459.69 1117.05" stroke="#0000ff" stroke-width="5.7" fill="none" stroke-linecap="butt"/>
<path d="M631.49 1101.31L655.89 1125.71M631.49 1125.71L655.89 1101.31" stroke="#0000ff" stroke-width="5.7" fill="none" stroke-linecap="butt"/>
<path d="M827.68 1081.79L852.08 1106.19M827.68 1106.19L852.08 1081.79" stroke="#0000ff" stroke-width="5.7" fill="none" stroke-linecap="butt"/>
<path d="M1023.88 1056.94L1048.28 1081.34M1023.88 1081.34L1048.28 1056.94" stroke="#0000ff" stroke-width="5.7" fill="none" stroke-linecap="butt"/>
<path d="M1220.07 1024.17L1244.47 1048.57M1220.07 1048.57L1244.47 1024.17" stroke="#0000ff" stroke-width="5.7" fill="none" stroke-linecap="butt"/>
<path d="M1416.26 978.93L1440.66 1003.33M1416.26 1003.33L1440.66 978.93" stroke="#0000ff" stroke-width="5.7" fill="none" stroke-linecap="butt"/>
<path d="M1612.46 912.36L1636.86 936.76M1612.46 936.76L1636.86 912.36" stroke="#0000ff" stroke-width="5.7" fill="none" stroke-linecap="butt"/>
<path d="M1808.65 804.56L1833.05 828.96M1808.65 828.96L1833.05 804.56" stroke="#0000ff" stroke-width="5.7" fill="none" stroke-linecap="butt"/>
<path d="M2004.84 599.75L2029.24 624.15M2004.84 624.15L2029.24 599.75" stroke="#0000ff" stroke-width="5.7" fill="none" stroke-linecap="butt"/>
<polyline points="251.3,1127.86 256.11,1127.55 260.91,1127.24 265.72,1126.93 270.53,1126.62 275.33,1126.31 280.14,1126 284.95,1125.68 289.75,1125.36 294.56,1125.05 299.37,1124.73 304.17,1124.41 308.98,1124.08 313.79,1123.76 318.59,1123.44 323.4,1123.11 328.21,1122.78 333.01,1122.45 337.82,1122.12 342.63,1121.79 347.44,1121.46 352.24,1121.13 357.05,1120.79 361.86,1120.45 366.66,1120.12 371.47,1119.78 376.28,1119.43 381.08,1119.09 385.89,1118.75 390.7,1118.4 395.5,1118.05 400.31,1117.71 405.12,1117.36 409.92,1117 414.73,1116.65 419.54,1116.3 424.34,1115.94 429.15,1115.58 433.96,1115.22 438.76,1114.86 443.57,1114.5 448.38,1114.13 453.18,1113.77 457.99,1113.4 462.8,1113.03 467.6,1112.66 472.41,1112.29 477.22,1111.91 482.02,1111.54 486.83,1111.16 491.64,1110.78 496.44,1110.4 501.25,1110.02 506.06,1109.63 510.86,1109.25 515.67,1108.86 520.48,1108.47 525.28,1108.08 530.09,1107.68 534.9,1107.29 539.7,1106.89 544.51,1106.49 549.32,1106.09 554.13,1105.69 558.93,1105.28 563.74,1104.88 568.55,1104.47 573.35,1104.06 578.16,1103.64 582.97,1103.23 587.77,1102.81 592.58,1102.4 597.39,1101.97 602.19,1101.55 607,1101.13 611.81,1100.7 616.61,1100.27 621.42,1099.84 626.23,1099.41 631.03,1098.97 635.84,1098.53 640.65,1098.1 645.45,1097.65 650.26,1097.21 655.07,1096.76 659.87,1096.31 664.68,1095.86 669.49,1095.41 674.29,1094.96 679.1,1094.5 683.91,1094.04 688.71,1093.58 693.52,1093.11 698.33,1092.64 703.13,1092.17 707.94,1091.7 712.75,1091.23 717.55,1090.75 722.36,1090.27 727.17,1089.79 731.98,1089.3 736.78,1088.82 741.59,1088.33 746.4,1087.84 751.2,1087.34 756.01,1086.84 760.82,1086.34 765.62,1085.84 770.43,1085.33 775.24,1084.83 780.04,1084.31 784.85,1083.8 789.66,1083.28 794.46,1082.76 799.27,1082.24 804.08,1081.72 808.88,1081.19 813.69,1080.66 818.5,1080.12 823.3,1079.58 828.11,1079.04 832.92,1078.5 837.72,1077.95 842.53,1077.4 847.34,1076.85 852.14,1076.3 856.95,1075.74 861.76,1075.18 866.56,1074.61 871.37,1074.04 876.18,1073.47 880.98,1072.89 885.79,1072.31 890.6,1071.73 895.4,1071.15 900.21,1070.56 905.02,1069.97 909.82,1069.37 914.63,1068.77 919.44,1068.17 924.25,1067.56 929.05,1066.95 933.86,1066.33 938.67,1065.72 943.47,1065.09 948.28,1064.47 953.09,1063.84 957.89,1063.21 962.7,1062.57 967.51,1061.93 972.31,1061.28 977.12,1060.63 981.93,1059.98 986.73,1059.32 991.54,1058.66 996.35,1058 1001.15,1057.33 1005.96,1056.65 1010.77,1055.97 1015.57,1055.29 1020.38,1054.6 1025.19,1053.91 1029.99,1053.21 1034.8,1052.51 1039.61,1051.81 1044.41,1051.1 1049.22,1050.38 1054.03,1049.66 1058.83,1048.94 1063.64,1048.21 1068.45,1047.47 1073.25,1046.74 1078.06,1045.99 1082.87,1045.24 1087.67,1044.49 1092.48,1043.73 1097.29,1042.96 1102.09,1042.19 1106.9,1041.42 1111.71,1040.64 1116.52,1039.85 1121.32,1039.06 1126.13,1038.26 1130.94,1037.46 1135.74,1036.65 1140.55,1035.84 1145.36,1035.02 1150.16,1034.19 1154.97,1033.36 1159.78,1032.53 1164.58,1031.68 1169.39,1030.83 1174.2,1029.98 1179,1029.11 1183.81,1028.24 1188.62,1027.37 1193.42,1026.49 1198.23,1025.6 1203.04,1024.71 1207.84,1023.8 1212.65,1022.9 1217.46,1021.98 1222.26,1021.06 1227.07,1020.13 1231.88,1019.19 1236.68,1018.25 1241.49,1017.3 1246.3,1016.34 1251.1,1015.37 1255.91,1014.4 1260.72,1013.42 1265.52,1012.43 1270.33,1011.44 1275.14,1010.43 1279.94,1009.42 1284.75,1008.4 1289.56,1007.37 1294.36,1006.33 1299.17,1005.29 1303.98,1004.23 1308.78,1003.17 1313.59,1002.1 1318.4,1001.02 1323.21,999.93 1328.01,998.83 1332.82,997.72 1337.63,996.6 1342.43,995.48 1347.24,994.34 1352.05,993.2 1356.85,992.04 1361.66,990.87 1366.47,989.7 1371.27,988.51 1376.08,987.32 1380.89,986.11 1385.69,984.89 1390.5,983.66 1395.31,982.42 1400.11,981.17 1404.92,979.91 1409.73,978.64 1414.53,977.35 1419.34,976.06 1424.15,974.75 1428.95,973.43 1433.76,972.09 1438.57,970.75 1443.37,969.39 1448.18,968.02 1452.99,966.63 1457.79,965.24 1462.6,963.83 1467.41,962.4 1472.21,960.97 1477.02,959.51 1481.83,958.05 1486.63,956.57 1491.44,955.07 1496.25,953.57 1501.06,952.04 1505.86,950.5 1510.67,948.95 1515.48,947.37 1520.28,945.79 1525.09,944.18 1529.9,942.56 1534.7,940.93 1539.51,939.27 1544.32,937.6 1549.12,935.92 1553.93,934.21 1558.74,932.48 1563.54,930.74 1568.35,928.98 1573.16,927.2 1577.96,925.4 1582.77,923.58 1587.58,921.74 1592.38,919.88 1597.19,918 1602,916.1 1606.8,914.17 1611.61,912.23 1616.42,910.26 1621.22,908.27 1626.03,906.26 1630.84,904.22 1635.64,902.16 1640.45,900.08 1645.26,897.97 1650.06,895.84 1654.87,893.68 1659.68,891.49 1664.48,889.28 1669.29,887.04 1674.1,884.78 1678.9,882.48 1683.71,880.16 1688.52,877.81 1693.33,875.43 1698.13,873.02 1702.94,870.57 1707.75,868.1 1712.55,865.59 1717.36,863.06 1722.17,860.49 1726.97,857.88 1731.78,855.24 1736.59,852.57 1741.39,849.85 1746.2,847.11 1751.01,844.32 1755.81,841.5 1760.62,838.63 1765.43,835.73 1770.23,832.79 1775.04,829.8 1779.85,826.78 1784.65,823.71 1789.46,820.59 1794.27,817.43 1799.07,814.22 1803.88,810.97 1808.69,807.66 1813.49,804.31 1818.3,800.91 1823.11,797.45 1827.91,793.94 1832.72,790.38 1837.53,786.76 1842.33,783.09 1847.14,779.35 1851.95,775.56 1856.75,771.7 1861.56,767.78 1866.37,763.8 1871.17,759.75 1875.98,755.64 1880.79,751.45 1885.6,747.2 1890.4,742.87 1895.21,738.47 1900.02,733.99 1904.82,729.43 1909.63,724.79 1914.44,720.06 1919.24,715.26 1924.05,710.36 1928.86,705.37 1933.66,700.3 1938.47,695.12 1943.28,689.85 1948.08,684.48 1952.89,679 1957.7,673.42 1962.5,667.72 1967.31,661.92 1972.12,655.99 1976.92,649.95 1981.73,643.78 1986.54,637.49 1991.34,631.06 1996.15,624.5 2000.96,617.79 2005.76,610.94 2010.57,603.94 2015.38,596.79 2020.18,589.48 2024.99,582 2029.8,574.35 2034.6,566.52 2039.41,558.51 2044.22,550.3 2049.02,541.91 2053.83,533.3 2058.64,524.49 2063.44,515.46 2068.25,506.2 2073.06,496.7 2077.87,486.95 2082.67,476.95 2087.48,466.69 2092.29,456.15 2097.09,445.32 2101.9,434.19 2106.71,422.74 2111.51,410.98 2116.32,398.87 2121.13,386.4 2125.93,373.57 2130.74,360.35 2135.55,346.72 2140.35,332.67 2145.16,318.17 2149.97,303.2 2154.77,287.75 2159.58,271.78 2164.39,255.27 2169.19,238.2 2174,220.52" stroke="#0000ff" stroke-width="5.8" fill="none" stroke-linejoin="round" stroke-linecap="butt"/>
<rect x="237.05" y="1113.61" width="28.5" height="28.5" stroke="#0000ff" stroke-width="5.7" fill="none"/>
<rect x="433.24" y="1099.95" width="28.5" height="28.5" stroke="#0000ff" stroke-width="5.7" fill="none"/>
<rect x="629.44" y="1083.57" width="28.5" height="28.5" stroke="#0000ff" stroke-width="5.7" fill="none"/>
<rect x="825.63" y="1063.46" width="28.5" height="28.5" stroke="#0000ff" stroke-width="5.7" fill="none"/>
<rect x="1021.83" y="1038.08" width="28.5" height="28.5" stroke="#0000ff" stroke-width="5.7" fill="none"/>
<rect x="1218.02" y="1004.87" width="28.5" height="28.5" stroke="#0000ff" stroke-width="5.7" fill="none"/>
<rect x="1414.21" y="959.31" width="28.5" height="28.5" stroke="#0000ff" stroke-width="5.7" fill="none"/>
<rect x="1610.41" y="892.59" width="28.5" height="28.5" stroke="#0000ff" stroke-width="5.7" fill="none"/>
<rect x="1806.6" y="784.83" width="28.5" height="28.5" stroke="#0000ff" stroke-width="5.7" fill="none"/>
<rect x="2002.79" y="580.02" width="28.5" height="28.5" stroke="#0000ff" stroke-width="5.7" fill="none"/>
<polyline points="251.3,1093.97 256.11,1093.63 260.91,1093.28 265.72,1092.94 270.53,1092.59 275.33,1092.24 280.14,1091.89 284.95,1091.54 289.75,1091.19 294.56,1090.83 299.37,1090.48 304.17,1090.12 308.98,1089.76 313.79,1089.4 318.59,1089.04 323.4,1088.68 328.21,1088.31 333.01,1087.95 337.82,1087.58 342.63,1087.21 347.44,1086.84 352.24,1086.47 357.05,1086.1 361.86,1085.73 366.66,1085.35 371.47,1084.98 376.28,1084.6 381.08,1084.22 385.89,1083.84 390.7,1083.45 395.5,1083.07 400.31,1082.68 405.12,1082.3 409.92,1081.91 414.73,1081.52 419.54,1081.13 424.34,1080.73 429.15,1080.34 433.96,1079.94 438.76,1079.54 443.57,1079.14 448.38,1078.74 453.18,1078.34 457.99,1077.93 462.8,1077.53 467.6,1077.12 472.41,1076.71 477.22,1076.3 482.02,1075.88 486.83,1075.47 491.64,1075.05 496.44,1074.63 501.25,1074.21 506.06,1073.79 510.86,1073.37 515.67,1072.94 520.48,1072.51 525.28,1072.08 530.09,1071.65 534.9,1071.22 539.7,1070.78 544.51,1070.35 549.32,1069.91 554.13,1069.47 558.93,1069.02 563.74,1068.58 568.55,1068.13 573.35,1067.68 578.16,1067.23 582.97,1066.78 587.77,1066.32 592.58,1065.87 597.39,1065.41 602.19,1064.95 607,1064.48 611.81,1064.02 616.61,1063.55 621.42,1063.08 626.23,1062.61 631.03,1062.14 635.84,1061.66 640.65,1061.18 645.45,1060.7 650.26,1060.22 655.07,1059.73 659.87,1059.25 664.68,1058.76 669.49,1058.26 674.29,1057.77 679.1,1057.27 683.91,1056.77 688.71,1056.27 693.52,1055.77 698.33,1055.26 703.13,1054.75 707.94,1054.24 712.75,1053.73 717.55,1053.21 722.36,1052.69 727.17,1052.17 731.98,1051.65 736.78,1051.12 741.59,1050.59 746.4,1050.06 751.2,1049.52 756.01,1048.99 760.82,1048.45 765.62,1047.9 770.43,1047.36 775.24,1046.81 780.04,1046.26 784.85,1045.7 789.66,1045.15 794.46,1044.59 799.27,1044.02 804.08,1043.46 808.88,1042.89 813.69,1042.32 818.5,1041.74 823.3,1041.16 828.11,1040.58 832.92,1040 837.72,1039.41 842.53,1038.82 847.34,1038.23 852.14,1037.63 856.95,1037.03 861.76,1036.43 866.56,1035.82 871.37,1035.21 876.18,1034.6 880.98,1033.98 885.79,1033.36 890.6,1032.74 895.4,1032.11 900.21,1031.48 905.02,1030.84 909.82,1030.21 914.63,1029.56 919.44,1028.92 924.25,1028.27 929.05,1027.62 933.86,1026.96 938.67,1026.3 943.47,1025.64 948.28,1024.97 953.09,1024.3 957.89,1023.62 962.7,1022.94 967.51,1022.26 972.31,1021.57 977.12,1020.88 981.93,1020.18 986.73,1019.48 991.54,1018.78 996.35,1018.07 1001.15,1017.36 1005.96,1016.64 1010.77,1015.92 1015.57,1015.19 1020.38,1014.46 1025.19,1013.72 1029.99,1012.98 1034.8,1012.24 1039.61,1011.49 1044.41,1010.74 1049.22,1009.98 1054.03,1009.21 1058.83,1008.44 1063.64,1007.67 1068.45,1006.89 1073.25,1006.11 1078.06,1005.32 1082.87,1004.53 1087.67,1003.73 1092.48,1002.92 1097.29,1002.11 1102.09,1001.3 1106.9,1000.48 1111.71,999.65 1116.52,998.82 1121.32,997.99 1126.13,997.14 1130.94,996.29 1135.74,995.44 1140.55,994.58 1145.36,993.72 1150.16,992.84 1154.97,991.97 1159.78,991.08 1164.58,990.19 1169.39,989.3 1174.2,988.39 1179,987.48 1183.81,986.57 1188.62,985.65 1193.42,984.72 1198.23,983.78 1203.04,982.84 1207.84,981.89 1212.65,980.94 1217.46,979.97 1222.26,979 1227.07,978.03 1231.88,977.04 1236.68,976.05 1241.49,975.05 1246.3,974.05 1251.1,973.03 1255.91,972.01 1260.72,970.98 1265.52,969.94 1270.33,968.9 1275.14,967.84 1279.94,966.78 1284.75,965.71 1289.56,964.63 1294.36,963.55 1299.17,962.45 1303.98,961.35 1308.78,960.23 1313.59,959.11 1318.4,957.98 1323.21,956.84 1328.01,955.69 1332.82,954.53 1337.63,953.36 1342.43,952.19 1347.24,951 1352.05,949.8 1356.85,948.59 1361.66,947.37 1366.47,946.15 1371.27,944.91 1376.08,943.66 1380.89,942.4 1385.69,941.13 1390.5,939.85 1395.31,938.55 1400.11,937.25 1404.92,935.93 1409.73,934.61 1414.53,933.27 1419.34,931.92 1424.15,930.55 1428.95,929.18 1433.76,927.79 1438.57,926.39 1443.37,924.98 1448.18,923.55 1452.99,922.11 1457.79,920.66 1462.6,919.19 1467.41,917.71 1472.21,916.22 1477.02,914.71 1481.83,913.19 1486.63,911.65 1491.44,910.1 1496.25,908.53 1501.06,906.95 1505.86,905.35 1510.67,903.74 1515.48,902.11 1520.28,900.46 1525.09,898.8 1529.9,897.12 1534.7,895.42 1539.51,893.71 1544.32,891.98 1549.12,890.23 1553.93,888.46 1558.74,886.68 1563.54,884.87 1568.35,883.05 1573.16,881.2 1577.96,879.34 1582.77,877.46 1587.58,875.56 1592.38,873.63 1597.19,871.69 1602,869.72 1606.8,867.74 1611.61,865.73 1616.42,863.69 1621.22,861.64 1626.03,859.56 1630.84,857.46 1635.64,855.33 1640.45,853.18 1645.26,851.01 1650.06,848.8 1654.87,846.58 1659.68,844.32 1664.48,842.04 1669.29,839.74 1674.1,837.4 1678.9,835.04 1683.71,832.64 1688.52,830.22 1693.33,827.77 1698.13,825.28 1702.94,822.77 1707.75,820.22 1712.55,817.65 1717.36,815.03 1722.17,812.39 1726.97,809.71 1731.78,806.99 1736.59,804.24 1741.39,801.46 1746.2,798.63 1751.01,795.77 1755.81,792.87 1760.62,789.93 1765.43,786.95 1770.23,783.92 1775.04,780.86 1779.85,777.75 1784.65,774.6 1789.46,771.4 1794.27,768.16 1799.07,764.87 1803.88,761.53 1808.69,758.14 1813.49,754.71 1818.3,751.22 1823.11,747.68 1827.91,744.08 1832.72,740.43 1837.53,736.72 1842.33,732.96 1847.14,729.14 1851.95,725.25 1856.75,721.31 1861.56,717.3 1866.37,713.22 1871.17,709.08 1875.98,704.87 1880.79,700.59 1885.6,696.24 1890.4,691.81 1895.21,687.31 1900.02,682.73 1904.82,678.08 1909.63,673.33 1914.44,668.51 1919.24,663.6 1924.05,658.6 1928.86,653.51 1933.66,648.33 1938.47,643.05 1943.28,637.67 1948.08,632.19 1952.89,626.6 1957.7,620.91 1962.5,615.1 1967.31,609.18 1972.12,603.14 1976.92,596.99 1981.73,590.7 1986.54,584.29 1991.34,577.74 1996.15,571.06 2000.96,564.23 2005.76,557.26 2010.57,550.14 2015.38,542.86 2020.18,535.42 2024.99,527.81 2029.8,520.03 2034.6,512.07 2039.41,503.93 2044.22,495.6 2049.02,487.06 2053.83,478.32 2058.64,469.37 2063.44,460.2 2068.25,450.8 2073.06,441.16 2077.87,431.27 2082.67,421.12 2087.48,410.71 2092.29,400.02 2097.09,389.04 2101.9,377.76 2106.71,366.16 2111.51,354.24 2116.32,341.98 2121.13,329.36 2125.93,316.36 2130.74,302.98 2135.55,289.19 2140.35,274.97 2145.16,260.31 2149.97,245.18 2154.77,229.56 2159.58,213.43 2164.39,196.75 2169.19,179.51 2174,161.66" stroke="#0000ff" stroke-width="5.8" fill="none" stroke-linejoin="round" stroke-linecap="butt"/>
<polygon points="251.3,1070.47 268.3,1093.97 251.3,1117.47 234.3,1093.97" stroke="#0000ff" stroke-width="5.7" fill="none" stroke-linejoin="miter"/>
<polygon points="447.49,1055.32 464.49,1078.82 447.49,1102.32 430.49,1078.82" stroke="#0000ff" stroke-width="5.7" fill="none" stroke-linejoin="miter"/>
<polygon points="643.69,1037.38 660.69,1060.88 643.69,1084.38 626.69,1060.88" stroke="#0000ff" stroke-width="5.7" fill="none" stroke-linejoin="miter"/>
<polygon points="839.88,1015.65 856.88,1039.15 839.88,1062.65 822.88,1039.15" stroke="#0000ff" stroke-width="5.7" fill="none" stroke-linejoin="miter"/>
<polygon points="1036.08,988.54 1053.08,1012.04 1036.08,1035.54 1019.08,1012.04" stroke="#0000ff" stroke-width="5.7" fill="none" stroke-linejoin="miter"/>
<polygon points="1232.27,953.46 1249.27,976.96 1232.27,1000.46 1215.27,976.96" stroke="#0000ff" stroke-width="5.7" fill="none" stroke-linejoin="miter"/>
<polygon points="1428.46,905.82 1445.46,929.32 1428.46,952.82 1411.46,929.32" stroke="#0000ff" stroke-width="5.7" fill="none" stroke-linejoin="miter"/>
<polygon points="1624.66,836.66 1641.66,860.16 1624.66,883.66 1607.66,860.16" stroke="#0000ff" stroke-width="5.7" fill="none" stroke-linejoin="miter"/>
<polygon points="1820.85,725.85 1837.85,749.35 1820.85,772.85 1803.85,749.35" stroke="#0000ff" stroke-width="5.7" fill="none" stroke-linejoin="miter"/>
<polygon points="2017.04,516.8 2034.04,540.3 2017.04,563.8 2000.04,540.3" stroke="#0000ff" stroke-width="5.7" fill="none" stroke-linejoin="miter"/>
<text transform="translate(251.3 1651.3) scale(1 1.03)" text-anchor="middle" font-size="58.7" fill="#262626" font-family="Liberation Sans, Arial, Helvetica, sans-serif">100</text>
<text transform="translate(491.64 1651.3) scale(1 1.03)" text-anchor="middle" font-size="58.7" fill="#262626" font-family="Liberation Sans, Arial, Helvetica, sans-serif">150</text>
<text transform="translate(731.98 1651.3) scale(1 1.03)" text-anchor="middle" font-size="58.7" fill="#262626" font-family="Liberation Sans, Arial, Helvetica, sans-serif">200</text>
<text transform="translate(972.31 1651.3) scale(1 1.03)" text-anchor="middle" font-size="58.7" fill="#262626" font-family="Liberation Sans, Arial, Helvetica, sans-serif">250</text>
<text transform="translate(1212.65 1651.3) scale(1 1.03)" text-anchor="middle" font-size="58.7" fill="#262626" font-family="Liberation Sans, Arial, Helvetica, sans-serif">300</text>
<text transform="translate(1452.99 1651.3) scale(1 1.03)" text-anchor="middle" font-size="58.7" fill="#262626" font-family="Liberation Sans, Arial, Helvetica, sans-serif">350</text>
<text transform="translate(1693.33 1651.3) scale(1 1.03)" text-anchor="middle" font-size="58.7" fill="#262626" font-family="Liberation Sans, Arial, Helvetica, sans-serif">400</text>
<text transform="translate(1933.66 1651.3) scale(1 1.03)" text-anchor="middle" font-size="58.7" fill="#262626" font-family="Liberation Sans, Arial, Helvetica, sans-serif">450</text>
<text transform="translate(2174 1651.3) scale(1 1.03)" text-anchor="middle" font-size="58.7" fill="#262626" font-family="Liberation Sans, Arial, Helvetica, sans-serif">500</text>
<text transform="translate(225.4 1589.2) scale(1 1.03)" text-anchor="end" font-size="58.7" fill="#262626" font-family="Liberation Sans, Arial, Helvetica, sans-serif">0</text>
<text transform="translate(225.4 1286.73) scale(1 1.03)" text-anchor="end" font-size="58.7" fill="#262626" font-family="Liberation Sans, Arial, Helvetica, sans-serif">50</text>
<text transform="translate(225.4 984.26) scale(1 1.03)" text-anchor="end" font-size="58.7" fill="#262626" font-family="Liberation Sans, Arial, Helvetica, sans-serif">100</text>
<text transform="translate(225.4 681.79) scale(1 1.03)" text-anchor="end" font-size="58.7" fill="#262626" font-family="Liberation Sans, Arial, Helvetica, sans-serif">150</text>
<text transform="translate(225.4 379.32) scale(1 1.03)" text-anchor="end" font-size="58.7" fill="#262626" font-family="Liberation Sans, Arial, Helvetica, sans-serif">200</text>
<text transform="translate(225.4 76.85) scale(1 1.03)" text-anchor="end" font-size="58.7" fill="#262626" font-family="Liberation Sans, Arial, Helvetica, sans-serif">250</text>
<text transform="translate(1208.6 1738.2) scale(1 1.03)" text-anchor="middle" font-size="64.8" fill="#262626" font-family="Liberation Sans, Arial, Helvetica, sans-serif">Packet Arrival Rate [packets/s]</text>
<text transform="translate(92.8 811.3) rotate(-90) scale(1 1.03)" text-anchor="middle" font-size="64.8" fill="#262626" font-family="Liberation Sans, Arial, Helvetica, sans-serif">End-to-End Delay [ms]</text>
<rect x="297.1" y="100.55" width="1005.3" height="451.95" fill="#ffffff" stroke="#262626" stroke-width="2.9"/>
<line x1="314.8" y1="144.4" x2="491.8" y2="144.4" stroke="#ff0000" stroke-width="5.8"/>
<circle cx="403.3" cy="144.4" r="17.15" stroke="#ff0000" stroke-width="5.7" fill="none"/>
<text transform="translate(505.7 164.3) scale(1 1.03)" font-size="53.0" fill="#000000" font-family="Liberation Sans, Arial, Helvetica, sans-serif">security service (RASD)</text>
<line x1="314.8" y1="217.25" x2="491.8" y2="217.25" stroke="#ff0000" stroke-width="5.8"/>
<polygon points="391.6,197.5 425.3,217.25 391.6,237" stroke="#ff0000" stroke-width="5.7" fill="none" stroke-linejoin="miter"/>
<text transform="translate(505.7 237.15) scale(1 1.03)" font-size="53.0" fill="#000000" font-family="Liberation Sans, Arial, Helvetica, sans-serif">sub-security service (RASD)</text>
<line x1="314.8" y1="290.1" x2="491.8" y2="290.1" stroke="#ff0000" stroke-width="5.8"/>
<path d="M386 290.1H420.6M403.3 272.8V307.4M391.07 277.87L415.53 302.33M391.07 302.33L415.53 277.87" stroke="#ff0000" stroke-width="5.7" fill="none" stroke-linecap="butt"/>
<text transform="translate(505.7 310) scale(1 1.03)" font-size="53.0" fill="#000000" font-family="Liberation Sans, Arial, Helvetica, sans-serif">non-security service (RASD)</text>
<line x1="314.8" y1="362.95" x2="491.8" y2="362.95" stroke="#0000ff" stroke-width="5.8"/>
<path d="M391.1 350.75L415.5 375.15M391.1 375.15L415.5 350.75" stroke="#0000ff" stroke-width="5.7" fill="none" stroke-linecap="butt"/>
<text transform="translate(505.7 382.85) scale(1 1.03)" font-size="53.0" fill="#000000" font-family="Liberation Sans, Arial, Helvetica, sans-serif">security service (non-RASD)</text>
<line x1="314.8" y1="435.8" x2="491.8" y2="435.8" stroke="#0000ff" stroke-width="5.8"/>
<rect x="389.05" y="421.55" width="28.5" height="28.5" stroke="#0000ff" stroke-width="5.7" fill="none"/>
<text transform="translate(505.7 455.7) scale(1 1.03)" font-size="53.0" fill="#000000" font-family="Liberation Sans, Arial, Helvetica, sans-serif">sub-security service (non-RASD)</text>
<line x1="314.8" y1="508.65" x2="491.8" y2="508.65" stroke="#0000ff" stroke-width="5.8"/>
<polygon points="403.3,485.15 420.3,508.65 403.3,532.15 386.3,508.65" stroke="#0000ff" stroke-width="5.7" fill="none" stroke-linejoin="miter"/>
<text transform="translate(505.7 528.55) scale(1 1.03)" font-size="53.0" fill="#000000" font-family="Liberation Sans, Arial, Helvetica, sans-serif">non-security service (non-RASD)</text>
</svg>
</body></html>
